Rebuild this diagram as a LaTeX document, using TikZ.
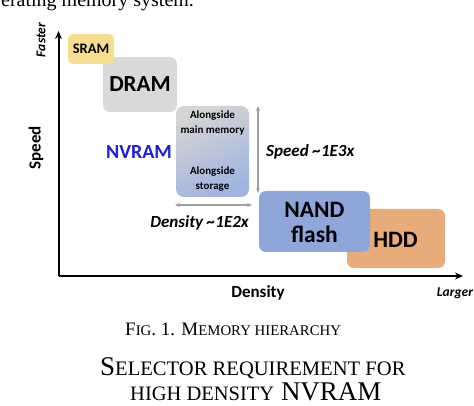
\documentclass[tikz,border=0pt]{standalone}
\usepackage{fontspec}
\setmainfont{Liberation Serif}
\newfontfamily\carl{Carlito}
\usetikzlibrary{arrows.meta}
\definecolor{sramc}{RGB}{246,222,142}
\definecolor{dramc}{RGB}{217,217,217}
\definecolor{nandc}{RGB}{143,166,219}
\definecolor{hddc}{RGB}{232,171,122}
\definecolor{nvblue}{RGB}{30,30,225}
\definecolor{nvtop}{RGB}{212,212,212}
\definecolor{nvbot}{RGB}{160,180,225}
\definecolor{dimgray}{RGB}{160,160,160}
\newcommand{\fs}[1]{\fontsize{#1}{#1}\selectfont}
\tikzset{
  memboxstyle/.style={rounded corners=7pt, inner sep=0pt, font=\carl\bfseries},
  axisline/.style={line width=2pt, -{Stealth[length=8pt,width=7pt]}},
  dimline/.style={dimgray, line width=1.2pt, {Stealth[length=5pt,width=4pt]}-{Stealth[length=5pt,width=4pt]}},
  axislabel/.style={font=\carl\bfseries\fs{17}, inner sep=0pt},
  endlabel/.style={font=\carl\bfseries\itshape\fs{13.5}, inner sep=0pt},
  smalltxt/.style={font=\carl\bfseries\fs{11}, inner sep=0pt, align=center},
  bigtxt/.style={font=\carl\bfseries\fs{23.5}, inner sep=0pt},
}
\begin{document}
\begin{tikzpicture}[x=1pt,y=-1pt]
\useasboundingbox (0,0) rectangle (474,406);
% running text cut at top
\node[anchor=base west, inner sep=0pt, font=\fs{20}] (runtext) at (1,7) {erating memory system.};
% axes
\coordinate (origin) at (58.5,276);
\coordinate (ytip) at (58.5,31);
\coordinate (xtip) at (463,276);
\draw[axisline] (origin) -- (ytip);
\draw[axisline] (origin) -- (xtip);
\node[endlabel, rotate=90] (faster) at (41,40) {Faster};
\node[axislabel, rotate=90] (speedlbl) at (36,148) {Speed};
\node[axislabel] (denslbl) at (258,293) {Density};
\node[endlabel] (larger) at (455,293) {Larger};
% boxes
\node[memboxstyle, fill=dramc, minimum width=74pt, minimum height=55pt, font=\carl\bfseries\fs{23}] (dram) at (140,84.5) {DRAM};
\node[memboxstyle, rounded corners=5pt, fill=sramc, minimum width=46pt, minimum height=30pt, font=\carl\bfseries\fs{14.5}] (sram) at (91,49) {SRAM};
\node[memboxstyle, rounded corners=8pt, minimum width=73pt, minimum height=91pt, top color=nvtop, middle color=white, bottom color=nvbot, shading angle=25] (nvbox) at (212.5,151.5) {};
\node[smalltxt] (along1) at (212.5,116) {Alongside};
\node[smalltxt] (mainmem) at (212.5,131) {main memory};
\node[smalltxt] (along2) at (212.5,172) {Alongside};
\node[smalltxt] (storage) at (212.5,187) {storage};
\node[font=\carl\bfseries\fs{20}, text=nvblue, inner sep=0pt] (nvram) at (139,152) {NVRAM};
\node[memboxstyle, fill=hddc, minimum width=98pt, minimum height=59pt] (hdd) at (396,238.5) {};
\node[bigtxt] (hddtxt) at (395.5,240) {HDD};
\node[memboxstyle, fill=nandc, minimum width=111pt, minimum height=61pt] (nand) at (314.5,221.5) {};
\node[bigtxt] (nandtxt) at (314.5,210) {NAND};
\node[bigtxt] (flashtxt) at (314.5,234) {flash};
% dimension arrows
\coordinate (vtop) at (258,106);
\coordinate (vbot) at (258,193);
\draw[dimline] (vtop) -- (vbot);
\node[font=\carl\bfseries\itshape\fs{17}, anchor=west, inner sep=0pt] (speedx) at (266,152) {Speed {\char126}1E3x};
\coordinate (hleft) at (175,205);
\coordinate (hright) at (252,205);
\draw[dimline] (hleft) -- (hright);
\node[font=\carl\bfseries\itshape\fs{17}, anchor=east, inner sep=0pt] (densx) at (249,223) {Density {\char126}1E2x};
% captions
\node[anchor=base west, inner sep=0pt, font=\fs{19}] (cap1) at (125,335) {F{\fs{14.8}IG}. 1. M{\fs{14.8}EMORY HIERARCHY}};
\node[anchor=base west, inner sep=0pt, font=\fs{27}] (cap2) at (100,375) {S{\fs{20.6}ELECTOR REQUIREMENT FOR}};
\node[anchor=base west, inner sep=0pt, font=\fs{27}] (cap3) at (130,400) {{\fs{20.5}HIGH DENSITY} NVRAM};
\end{tikzpicture}
\end{document}
